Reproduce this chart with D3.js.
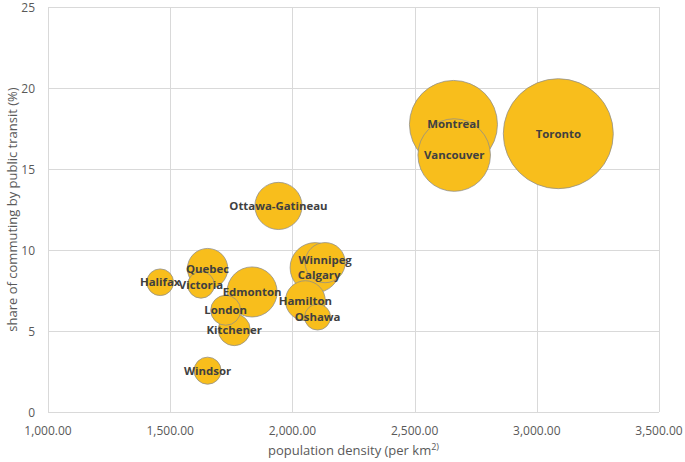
<!DOCTYPE html>
<html>
<head>
<meta charset="utf-8">
<script src="https://cdn.jsdelivr.net/npm/d3@7"></script>
<style>
  body { margin: 0; background: #fff; }
  #chart svg { display: block; }
  .grid line { stroke: #d9d9d9; stroke-width: 1; }
  .tick-label { font-family: "Open Sans", sans-serif; font-size: 12px; fill: #595959; }
  .axis-title { font-family: "Open Sans", sans-serif; font-size: 13px; fill: #595959; }
  .bubble { fill: #f8be1c; stroke: #8c8c8c; stroke-width: 0.75; }
  .bubble-label { font-family: "Open Sans", sans-serif; font-size: 11.4px; font-weight: bold; fill: #404040; }
</style>
</head>
<body>
<div id="chart"></div>
<script>
'use strict'
// city metro areas
const cities = ["Toronto", "Montreal", "Vancouver", "Ottawa-Gatineau", "Calgary", "Edmonton",
  "Quebec", "Winnipeg", "Hamilton", "Kitchener", "London", "Halifax", "Oshawa", "Victoria", "Windsor"]
// population density (per km2)
const density = [3088, 2659, 2662, 1943, 2093, 1835, 1653, 2134, 2053, 1762, 1727, 1459, 2103, 1626, 1653]
// share of commuting by public transit (%)
const transit = [17.18, 17.75, 15.86, 12.72, 8.91, 7.41, 8.85, 9.22, 6.87, 5.08, 6.28, 8.01, 5.86, 7.85, 2.55]
// bubble size: population (thousands)
const population = [5930, 3800, 2580, 1090, 1230, 1230, 800, 790, 780, 500, 440, 350, 330, 350, 360]

const xTicks = [1000, 1500, 2000, 2500, 3000, 3500]
const yTicks = [0, 5, 10, 15, 20, 25]

// small label nudges where labels were moved apart in the original
const labelNudge = {Calgary: [4, 7], Winnipeg: [0, -3]}

const W = 685, H = 462
const margin = {left: 48, right: 26, top: 7, bottom: 50}

const svg = d3.select("#chart")
  .append("svg")
    .attr("width", W)
    .attr("height", H)

const x = d3.scaleLinear()
  .domain([1000, 3500])
  .range([margin.left, W - margin.right])
const y = d3.scaleLinear()
  .domain([0, 25])
  .range([H - margin.bottom, margin.top])
const r = d3.scaleSqrt()
  .domain([0, d3.max(population)])
  .range([0, 55])

const fmt = d3.format(",.2f")

// gridlines
const grid = svg.append("g").attr("class", "grid")
grid.selectAll(".gx")
  .data(xTicks)
  .enter()
    .append("line")
    .attr("x1", d => Math.round(x(d)) + 0.5)
    .attr("x2", d => Math.round(x(d)) + 0.5)
    .attr("y1", y(25))
    .attr("y2", y(0))
grid.selectAll(".gy")
  .data(yTicks)
  .enter()
    .append("line")
    .attr("x1", x(1000))
    .attr("x2", x(3500))
    .attr("y1", d => Math.round(y(d)) + 0.5)
    .attr("y2", d => Math.round(y(d)) + 0.5)

// tick labels
svg.selectAll(".xl")
  .data(xTicks)
  .enter()
    .append("text")
    .attr("class", "tick-label")
    .attr("x", d => x(d))
    .attr("y", y(0) + 23)
    .attr("text-anchor", "middle")
    .text(d => fmt(d))
svg.selectAll(".yl")
  .data(yTicks)
  .enter()
    .append("text")
    .attr("class", "tick-label")
    .attr("x", x(1000) - 13)
    .attr("y", d => y(d) + 4.5)
    .attr("text-anchor", "end")
    .text(d => d)

// axis titles
const xt = svg.append("text")
  .attr("class", "axis-title")
  .attr("x", (x(1000) + x(3500)) / 2)
  .attr("y", H - 7)
  .attr("text-anchor", "middle")
xt.append("tspan").text("population density (per km")
xt.append("tspan")
  .attr("dy", -5)
  .attr("font-size", "9px")
  .text("2)")

svg.append("text")
  .attr("class", "axis-title")
  .attr("transform", `translate(17,${(y(0) + y(25)) / 2}) rotate(-90)`)
  .attr("text-anchor", "middle")
  .text("share of commuting by public transit (%)")

// bubbles, largest first so small ones sit on top
const rows = cities.map((c, i) => ({city: c, d: density[i], t: transit[i], p: population[i]}))
rows.sort((a, b) => b.p - a.p)

svg.append("g")
  .selectAll("circle")
  .data(rows)
  .enter()
    .append("circle")
    .attr("class", "bubble")
    .attr("cx", d => x(d.d))
    .attr("cy", d => y(d.t))
    .attr("r", d => r(d.p))

svg.append("g")
  .selectAll("text")
  .data(rows)
  .enter()
    .append("text")
    .attr("class", "bubble-label")
    .attr("x", d => x(d.d) + (labelNudge[d.city] ? labelNudge[d.city][0] : 0))
    .attr("y", d => y(d.t) + 4 + (labelNudge[d.city] ? labelNudge[d.city][1] : 0))
    .attr("text-anchor", "middle")
    .text(d => d.city)
</script>
</body>
</html>
